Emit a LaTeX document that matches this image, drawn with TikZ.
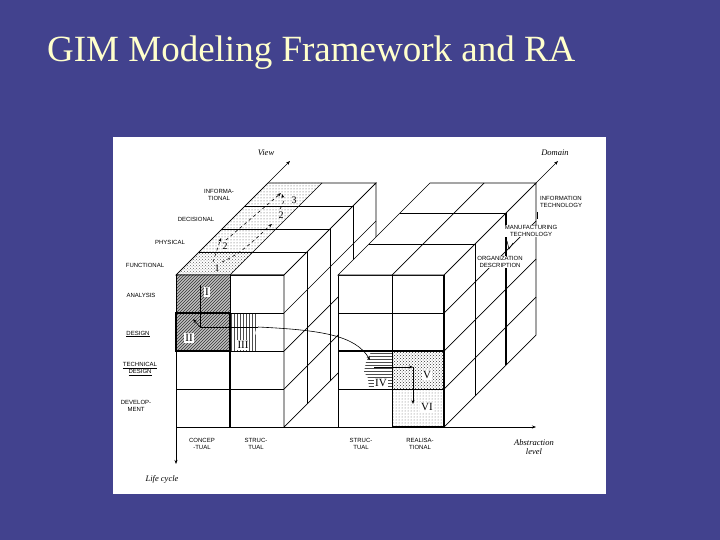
\documentclass[tikz,border=0pt]{standalone}
\usepackage{fontspec}
\setmainfont{Liberation Serif}
\setsansfont{Liberation Sans}
\usetikzlibrary{patterns,arrows.meta}
\definecolor{bgc}{RGB}{66,66,142}
\definecolor{ttl}{RGB}{255,255,204}
\begin{document}
\begin{tikzpicture}[x=1pt,y=-1pt,
  ln/.style={line width=0.7pt},
  thk/.style={line width=1.6pt},
  lab/.style={font=\fontsize{6}{6.5}\selectfont\sffamily, align=center, inner sep=0},
  ax/.style={font=\fontsize{8.5}{9}\selectfont\itshape, align=center, inner sep=0},
  rom/.style={font=\fontsize{11}{11}\selectfont, fill=white, inner sep=1pt},
  num/.style={font=\fontsize{10}{10}\selectfont, inner sep=0.5pt},
  arr/.style={line width=0.6pt,-{Stealth[length=4pt,width=3pt]}},
  darr/.style={line width=0.6pt,dashed,-{Stealth[length=4pt,width=3pt]}}]
\useasboundingbox (0,0) rectangle (720,540);
\fill[bgc] (0,0) rectangle (720,540);
\node[anchor=west, text=ttl, font=\fontsize{37}{37}\selectfont, inner sep=0] (title) at (47,53) {GIM Modeling Framework and RA};
\fill[white] (113,137) rectangle (606,494);
% ---------- left block faces
\filldraw[ln,fill=white] (176,275) rectangle (284,427);
\filldraw[ln,fill=white] (176,275)--(284,275)--(376,183)--(268,183)--cycle;
\filldraw[ln,fill=white] (284,275)--(376,183)--(376,335)--(284,427)--cycle;
% shading of top strip
\fill[pattern=dots,pattern color=black!70] (199,252)--(253,252)--(322,183)--(268,183)--cycle;
\fill[pattern=crosshatch dots,pattern color=black!60] (176,275)--(230,275)--(253,252)--(199,252)--cycle;
% I, II, III
\fill[black!25] (176,275) rectangle (230,351);
\fill[pattern=north east lines,pattern color=black!80] (176,275) rectangle (230,351);
\fill[pattern=vertical lines,pattern color=black!70] (231,313)--(256,313)--(258,322)--(255,333)--(258,342)--(256,351)--(231,351)--cycle;
% grid lines left block
\foreach \k in {1,2,3}{
  \draw[ln] ({176+23*\k},{275-23*\k})--({284+23*\k},{275-23*\k});
  \draw[ln] ({284+23*\k},{275-23*\k})--({284+23*\k},{427-23*\k});
}
\draw[ln] (230,275)--(322,183);
\foreach \y in {313,351,389}{
  \draw[ln] (176,\y)--(284,\y);
  \draw[ln] (284,\y)--(376,{\y-92});
}
\draw[ln] (230,275)--(230,427);
\draw[thk] (230,351)--(230,427);
\draw[thk] (176,313) rectangle (230,351);
\draw[ln] (176,275)--(284,275)--(376,183);
% ---------- right block faces
\filldraw[ln,fill=white] (338,275) rectangle (444,427);
\filldraw[ln,fill=white] (338,275)--(444,275)--(536,183)--(430,183)--cycle;
\filldraw[ln,fill=white] (444,275)--(536,183)--(536,335)--(444,427)--cycle;
\fill[pattern=crosshatch dots,pattern color=black!80] (392,351) rectangle (444,389);
\fill[pattern=dots,pattern color=black!60] (392,389) rectangle (444,427);
\fill[pattern=horizontal lines,pattern color=black!70] (371,352)--(392,352)--(392,389)--(369,389)--(368,378)--(364,372)--(366,362)--cycle;
\foreach \k/\o in {1/31,2/62}{
  \draw[ln] ({338+\o},{275-\o})--({444+\o},{275-\o});
  \draw[ln] ({444+\o},{275-\o})--({444+\o},{427-\o});
}
\draw[thk] (506,213)--(506,365);
\draw[ln] (392,275)--(484,183);
\foreach \y in {313,351,389}{
  \draw[ln] (338,\y)--(444,\y);
  \draw[ln] (444,\y)--(536,{\y-92});
}
\draw[ln] (392,275)--(392,427);
\draw[thk] (444,275)--(444,427);
\draw[thk] (338,351)--(444,351);
\draw[thk] (392,427)--(444,427);
% ---------- axes
\coordinate (o) at (176,275);
\coordinate (vw) at (290,161);
\coordinate (dm) at (558,161);
\coordinate (ab) at (536,427);
\coordinate (lc) at (176,464);
\draw[arr] (o)--(vw);
\draw[arr] (536,183)--(dm);
\draw[arr] (176,427)--(ab);
\draw[arr] (o)--(lc);
\node[ax] (tview) at (266,153) {View};
\node[ax] (tdom) at (555,153) {Domain};
\node[ax] (tabs) at (534,447) {Abstraction\\level};
\node[ax] (tlc) at (162,479) {Life cycle};
% ---------- labels
\node[lab] (l1) at (219,195) {INFORMA-\\TIONAL};
\node[lab] (l2) at (196,219) {DECISIONAL};
\node[lab] (l3) at (170,242) {PHYSICAL};
\node[lab] (l4) at (145,265) {FUNCTIONAL};
\node[lab] (l5) at (141,295) {ANALYSIS};
\node[lab] (l6) at (138,334) {\underline{DESIGN}};
\node[lab] (l7) at (140,369) {\underline{TECHNICAL}\\\underline{DESIGN}};
\node[lab] (l8) at (136,406) {DEVELOP-\\MENT};
\node[lab] (b1) at (202,444) {CONCEP\\-TUAL};
\node[lab] (b2) at (256,444) {STRUC-\\TUAL};
\node[lab] (b3) at (361,444) {STRUC-\\TUAL};
\node[lab] (b4) at (420,444) {REALISA-\\TIONAL};
\node[lab,fill=white,inner sep=1pt] (d1) at (561,202) {INFORMATION\\TECHNOLOGY};
\node[lab,fill=white,inner sep=1pt] (d2) at (531,231) {MANUFACTURING\\TECHNOLOGY};
\node[lab,fill=white,inner sep=1pt] (d3) at (500,262) {ORGANIZATION\\DESCRIPTION};
\draw[line width=0.5pt] (537,212)--(537,219);
\draw[line width=0.5pt] (507,241)--(509,249)--(513,243);
% ---------- numbers and arrows on the views
\node[num] (n1) at (217,268) {1};
\node[num] (n2a) at (225,246) {2};
\node[num] (n2b) at (281,215) {2};
\node[num] (n3) at (294,200) {3};
\draw[darr] (213,262)--(221,238);
\draw[darr] (226,240)--(281,193);
\draw[darr] (222,262) .. controls (245,252) and (262,232) .. (272,224);
\draw[darr] (280,209) .. controls (284,202) .. (282,194);
% ---------- roman numerals
\node[rom] (r1) at (207,292) {I};
\node[rom] (r2) at (189,338) {II};
\node[rom] (r3) at (243,345) {III};
\node[rom] (r4) at (381,383) {IV};
\node[rom] (r5) at (427,375) {V};
\node[rom] (r6) at (427,407) {VI};
\coordinate (c1) at (200,327);
\coordinate (c2) at (258,327);
\coordinate (c3) at (374,367);
\coordinate (c4) at (413,367);
\draw[line width=0.6pt] (200,285)--(c1)--(c2);
\draw[arr] (c1)--(193,319);
\draw[arr] (c2) .. controls (320,330) and (355,335) .. (370,360);
\draw[arr] (c3)--(c4);
\draw[arr] (c4)--(413,404);
\end{tikzpicture}
\end{document}
